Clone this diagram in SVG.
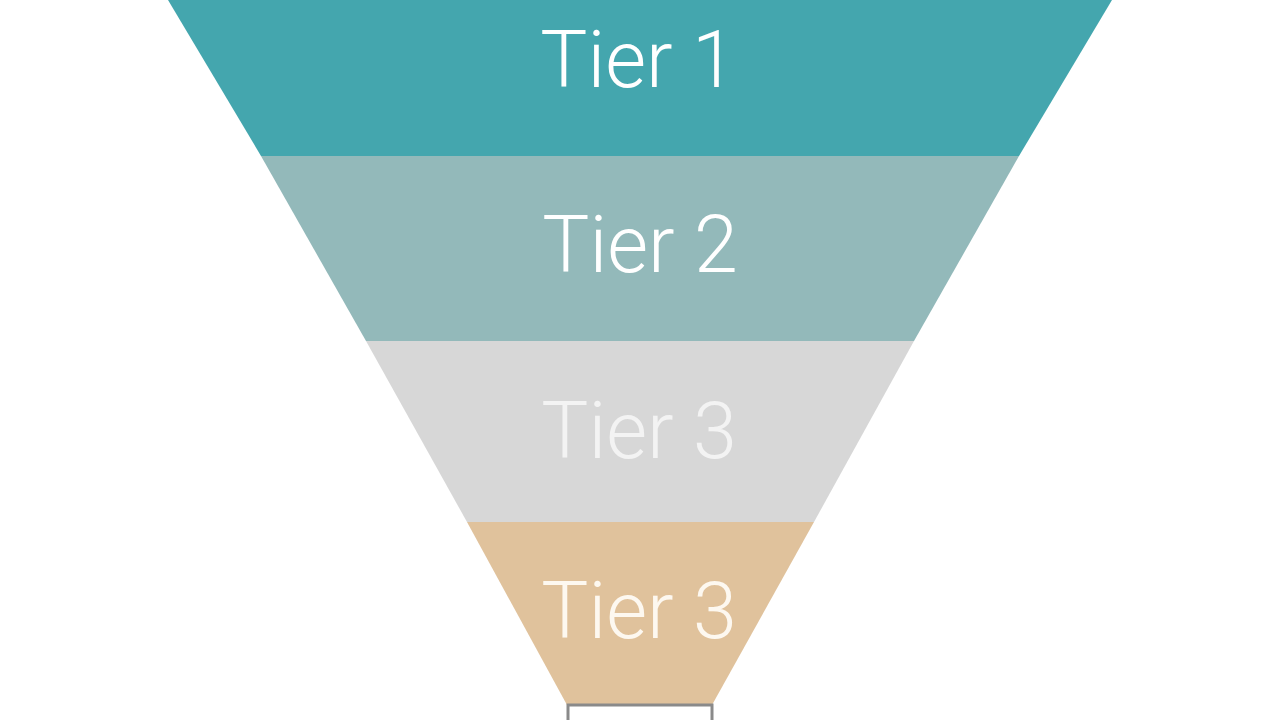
<svg xmlns="http://www.w3.org/2000/svg" width="1280" height="720" viewBox="0 0 1280 720">
<style>.t{font-family:Roboto,"Liberation Sans",sans-serif;font-weight:300;font-size:79px;fill:#fff;text-anchor:middle}</style>
<rect width="1280" height="720" fill="#fff"/>
<g id="tier1"><polygon points="168,0 1112,0 1019,156 261,156" fill="#44a6ae"/><text class="t" x="638" y="87">Tier 1</text></g>
<g id="tier2"><polygon points="261,156 1019,156 914,341 366,341" fill="#93b9ba"/><text class="t" x="640" y="272">Tier 2</text></g>
<g id="tier3a"><polygon points="366,341 914,341 814,522 467,522" fill="#d7d7d7"/><text class="t" x="639" y="458" style="fill:#f3f3f3">Tier 3</text></g>
<g id="tier3b"><polygon points="467,522 814,522 712,705 567,705" fill="#e0c29c"/><text class="t" x="639" y="638" style="fill:#fdf8f0">Tier 3</text></g>
<g id="stem"><rect x="568" y="705" width="144" height="30" fill="#fff" stroke="#8a8a8a" stroke-width="3"/></g>
</svg>
